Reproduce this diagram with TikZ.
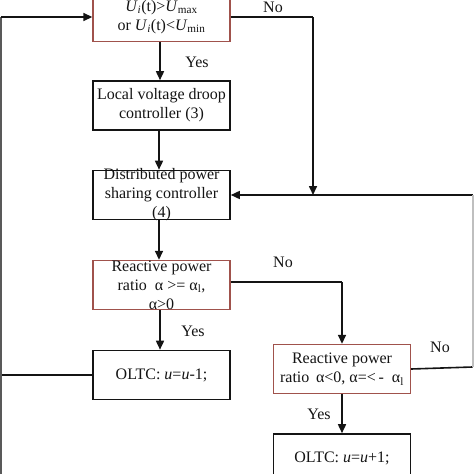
\documentclass[tikz,border=0pt]{standalone}
\usepackage{fontspec}
\setmainfont{Liberation Serif}
\usetikzlibrary{arrows.meta}
\definecolor{boxred}{RGB}{160,82,76}
\definecolor{ink}{RGB}{20,20,20}
\begin{document}
\begin{tikzpicture}[x=1pt,y=-1pt,
  every node/.style={font=\fontsize{16}{19}\selectfont, text=ink},
  blackbox/.style={draw=ink, line width=1.6pt, minimum width=137pt, minimum height=49pt, inner sep=0pt, align=center},
  redbox/.style={draw=boxred, line width=1.4pt, minimum width=137pt, minimum height=49pt, inner sep=0pt, align=center},
  txt/.style={align=center, inner sep=0pt},
  lbl/.style={inner sep=0pt},
  conn/.style={draw=ink, line width=1.6pt},
  arr/.style={conn, -{Triangle[length=9pt,width=8pt]}},
  side/.style={draw=black!65, line width=2pt}]
\clip (0,0) rectangle (474,474);
\fill[white] (0,0) rectangle (474,474);

% boxes
\node[redbox] (b1) at (161.5,17) {};
\node[txt] (t1) at (b1.center) {\textit{U}\textsubscript{\textit{i}}(t)>\textit{U}\textsubscript{max}\\or \textit{U}\textsubscript{\textit{i}}(t)<\textit{U}\textsubscript{min}};
\node[blackbox] (b2) at (161.5,105.5) {Local voltage droop\\controller (3)};
\node[blackbox] (b3) at (161.5,195) {};
\node[txt] (t3) at (b3.center) {Distributed power\\sharing controller\\(4)};
\node[redbox] (b4) at (161.5,285) {};
\node[txt] (t4) at (b4.center) {Reactive power\\ratio\ \ α >= α\textsubscript{l},\\α>0};
\node[blackbox] (b6) at (161.5,375) {OLTC: \textit{u}=\textit{u}-1;};
\node[redbox] (b5) at (342,369) {Reactive power\\ratio\, α<0, α=<\,-\ \ α\textsubscript{l}};
\node[blackbox] (b7) at (342,458.5) {OLTC: \textit{u}=\textit{u}+1;};

% coordinates
\coordinate (tr) at (313,17);
\coordinate (j) at (313,195);
\coordinate (re) at (472.5,195);
\coordinate (rb) at (472.5,367);
\coordinate (b4r) at (342,282);
\coordinate (lb) at (1,474);
\coordinate (lm) at (1,375);
\coordinate (lt) at (1,17);

% connectors
\draw[arr] (b1.south -| 160,0) -- (b2.north -| 160,0);
\draw[arr] (b2.south -| 159,0) -- (b3.north -| 159,0);
\draw[arr] (b3.south -| 159,0) -- (b4.north -| 159,0);
\draw[arr] (b4.south -| 160,0) -- (b6.north -| 160,0);
\draw[arr] (b5.south) -- (b7.north);
\draw[conn] (b1.east) -- (tr);
\draw[arr] (tr) -- (j);
\draw[arr] (re) -- (b3.east);
\draw[conn] (b4.east |- b4r) -- (b4r);
\draw[arr] (b4r) -- (b5.north);
\draw[conn] (b5.east) -- (rb);
\draw[draw=black!25, line width=2pt] (rb) -- (re);
\draw[conn] (b6.west) -- (lm);
\draw[side] (lb) -- (lt);
\draw[arr] (lt) -- (b1.west);

% labels
\node[lbl] (n1) at (273,7.5) {No};
\node[lbl] (y1) at (197,62) {Yes};
\node[lbl] (n2) at (283,262) {No};
\node[lbl] (y2) at (193,331) {Yes};
\node[lbl] (n3) at (440,347) {No};
\node[lbl] (y3) at (319,414) {Yes};
\end{tikzpicture}
\end{document}
